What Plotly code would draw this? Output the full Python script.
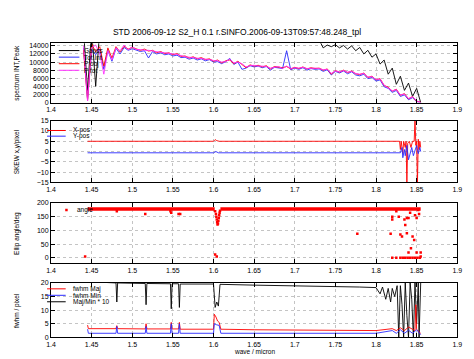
import plotly.graph_objects as go

TITLE = "STD 2006-09-12 S2_H 0.1 r.SINFO.2006-09-13T09:57:48.248_tpl"

# ---------------- Panel 1: spectrum ----------------
WAVE = [1.440, 1.445, 1.450, 1.455, 1.460, 1.465, 1.470, 1.475, 1.480, 1.485,
        1.490, 1.495, 1.500, 1.505, 1.510, 1.515, 1.520, 1.525, 1.530, 1.535,
        1.540, 1.545, 1.550, 1.555, 1.560, 1.565, 1.570, 1.575, 1.580, 1.585,
        1.590, 1.595, 1.600, 1.605, 1.610, 1.615, 1.620, 1.625, 1.630, 1.635,
        1.640, 1.645, 1.650, 1.655, 1.660, 1.665, 1.670, 1.675, 1.680, 1.685,
        1.690, 1.695, 1.700, 1.705, 1.710, 1.715, 1.720, 1.725, 1.730, 1.735,
        1.740, 1.745, 1.750, 1.755, 1.760, 1.765, 1.770, 1.775, 1.780, 1.785,
        1.790, 1.795, 1.800, 1.805, 1.810, 1.815, 1.820, 1.825, 1.830, 1.835,
        1.840, 1.845, 1.850, 1.855]

GAUSS = [18000, 3000, 18000, 4000, 18000, 18000, 18000, 18000, 18000, 18000,
         18000, 18000, 18000, 18000, 18000, 18000, 18000, 18000, 18000, 18000,
         18000, 18000, 18000, 18000, 18000, 18000, 18000, 18000, 18000, 18000,
         18000, 18000, 18000, 18000, 18000, 18000, 18000, 18000, 18000, 18000,
         18000, 18000, 18000, 18000, 18000, 18000, 18000, 18000, 18000, 18000,
         18000, 18000, 18000, 18000, 18000, 18000, 18000, 18000, 15500, 13500,
         14200, 13800, 14300, 13500, 14100, 13200, 14000, 12800, 13600, 12000,
         12900, 11200, 12000, 9500, 10500, 7000, 8500, 4500, 6500, 3000,
         4800, 1500, 3500, 0]

TOT_INT = [13500, 800, 13000, 11800, 13200, 8200, 12900, 10200, 13400, 12000,
           13600, 12900, 13300, 13000, 12600, 12800, 11000, 12600, 12000, 12300,
           11800, 12000, 11500, 11700, 11100, 11200, 10700, 11000, 10500, 10800,
           10300, 10600, 10000, 10100, 9600, 10100, 10900, 9400, 10000, 8200,
           8500, 9100, 8800, 9000, 8600, 8900, 8000, 8700, 8500, 8400,
           12800, 8100, 8500, 8200, 8600, 8000, 8400, 8200, 8300, 7700,
           8100, 6800, 7700, 7300, 7800, 7100, 7600, 6800, 6600, 7000,
           5900, 6200, 5300, 5600, 3900, 3500, 2500, 3000, 1500, 1900,
           700, 1200, 200, 50]

P_OBJ = [13000, 500, 14500, 12500, 13800, 9000, 13500, 11000, 13800, 12500,
         13900, 13200, 13600, 13300, 12900, 13200, 12700, 12900, 12300, 12600,
         12100, 12300, 11800, 12100, 11400, 11500, 11000, 11300, 10800, 11100,
         10600, 10800, 10200, 10500, 9800, 10300, 10500, 9600, 10200, 9400,
         8600, 9300, 9000, 9200, 8800, 9100, 8300, 8900, 8700, 8600,
         8900, 8300, 8700, 8400, 8800, 8300, 8600, 8400, 8500, 8000,
         8300, 7000, 7900, 7500, 8000, 7400, 7800, 7100, 6900, 7300,
         6200, 6500, 5600, 5900, 4200, 3800, 2800, 3300, 1800, 2200,
         900, 1500, 300, 100]

P_TOT = [14000, 400, 13500, 14200, 12000, 7000, 12800, 10500, 13500, 12800,
         14200, 13000, 13800, 13100, 13100, 12900, 12900, 12700, 12500, 12400,
         12300, 12100, 12000, 11900, 11600, 11300, 11200, 11100, 11000, 10900,
         10800, 10600, 10400, 10300, 10000, 10100, 10700, 9800, 10000, 9600,
         8800, 9100, 9200, 9000, 9000, 8900, 8500, 8700, 8900, 8400,
         9000, 8400, 8600, 8500, 8700, 8400, 8500, 8500, 8400, 8100,
         8200, 7200, 7800, 7600, 7900, 7500, 7700, 7200, 7000, 7200,
         6300, 6400, 5700, 5800, 4300, 3700, 2900, 3200, 1900, 2100,
         1000, 1400, 400, 0]

# ---------------- Panel 2: skew ----------------
XPOS_W = [1.4450, 1.6000, 1.6020, 1.6040, 1.6070, 1.8280, 1.8290, 1.8300, 1.8310,
          1.8330, 1.8340, 1.8360, 1.8370, 1.8380, 1.8390, 1.8410, 1.8430, 1.8450,
          1.8470, 1.8480, 1.8490, 1.8500, 1.8510, 1.8520, 1.8530, 1.8540, 1.8550]
XPOS = [5.0, 5.0, 5.8, 5.3, 5.0, 5.0, 5.0, 1.0, 5.0,
        -1.0, 5.0, 2.0, 5.0, -16.0, 4.0, 5.0, 2.0, 5.0,
        5.0, 16.0, 3.0, 5.0, -16.0, 6.0, 1.0, 5.0, 2.0]

YPOS_W = [1.4450, 1.6000, 1.6030, 1.6060, 1.8300, 1.8320, 1.8330, 1.8350, 1.8360,
          1.8380, 1.8400, 1.8420, 1.8440, 1.8460, 1.8480, 1.8500, 1.8520, 1.8540, 1.8550]
YPOS = [-0.6, -0.6, 0.0, -0.6, -0.6, 2.0, -3.0, 1.0, -2.0,
        3.0, -4.0, -1.0, 2.0, -2.0, 1.0, 3.0, -1.0, 2.0, 0.0]

# ---------------- Panel 3: ellipse angle ----------------
BAND_W = [1.4450, 1.6015, None, 1.6085, 1.8550]
BAND_A = [178, 178, None, 178, 178]

ANGLE_W = [1.4190, 1.4420, 1.4810, 1.5160, 1.5470, 1.5480, 1.5570, 1.5590,
           1.6020, 1.6030, 1.6035, 1.6040, 1.6045, 1.6050, 1.6055, 1.6060, 1.6065,
           1.6070, 1.6075, 1.6080, 1.6020, 1.6040, 1.7770,
           1.8180, 1.8200, 1.8200, 1.8200, 1.8250, 1.8250, 1.8280, 1.8300, 1.8320,
           1.8350, 1.8360, 1.8380, 1.8400, 1.8420, 1.8430, 1.8400, 1.8380, 1.8450,
           1.8470, 1.8480, 1.8500, 1.8520, 1.8530, 1.8500, 1.8550, 1.8550,
           1.8300, 1.8330, 1.8360, 1.8390, 1.8420, 1.8450, 1.8480, 1.8510, 1.8540]
ANGLE = [175, 5, 170, 160, 170, 165, 160, 160,
         170, 160, 150, 140, 130, 122, 125, 135, 145,
         155, 165, 172, 12, 5, 88,
         88, 150, 140, 0, 0, 170, 150, 85, 78,
         140, 120, 145, 145, 165, 35, 20, 90, 78,
         65, 155, 145, 175, 160, 20, 20, 5,
         0, 0, 0, 0, 0, 0, 0, 0, 0]

# ---------------- Panel 4: fwhm ----------------
RATIO_W = [1.445, 1.480, 1.481, 1.482, 1.516, 1.517, 1.518, 1.547, 1.548, 1.549,
           1.557, 1.558, 1.559, 1.600, 1.602, 1.604, 1.606, 1.608, 1.650, 1.700,
           1.750, 1.780, 1.800, 1.805, 1.808, 1.812, 1.815, 1.818, 1.820, 1.823,
           1.826, 1.828, 1.830, 1.832, 1.834, 1.836, 1.838, 1.840, 1.842, 1.844,
           1.846, 1.848, 1.850, 1.852, 1.853, 1.855]
RATIO = [20.5, 20.0, 13.0, 20.0, 19.8, 12.0, 19.8, 19.7, 10.5, 19.7,
         19.7, 11.0, 19.6, 19.6, 11.0, 13.0, 11.5, 19.5, 19.2, 19.0,
         18.8, 18.5, 18.3, 16.0, 18.5, 14.0, 18.0, 13.0, 18.0, 15.0,
         19.0, 0.0, 19.0, 12.0, 0.0, 20.0, 8.0, 0.0, 20.0, 14.0,
         0.0, 20.0, 5.0, 20.0, 0.0, 20.0]

MAJ_W = [1.445, 1.446, 1.480, 1.481, 1.482, 1.516, 1.517, 1.518, 1.547, 1.548,
         1.549, 1.557, 1.558, 1.559, 1.600, 1.601, 1.603, 1.605, 1.607, 1.609,
         1.650, 1.700, 1.750, 1.800, 1.820, 1.825, 1.830, 1.835, 1.840, 1.845,
         1.848, 1.849, 1.850, 1.853, 1.855]
MAJ = [4.5, 3.2, 3.2, 4.3, 3.2, 3.1, 5.0, 3.1, 3.1, 5.5,
       3.1, 3.1, 5.5, 3.0, 3.0, 8.5, 7.5, 6.0, 5.5, 3.0,
       2.8, 2.7, 2.6, 2.5, 3.2, 2.5, 3.5, 2.5, 3.8, 3.0,
       2.5, 12.0, 3.0, 2.0, 1.5]

MIN_W = [1.445, 1.446, 1.480, 1.481, 1.482, 1.516, 1.517, 1.518, 1.547, 1.548,
         1.549, 1.557, 1.558, 1.559, 1.600, 1.601, 1.604, 1.607, 1.609, 1.800,
         1.820, 1.825, 1.830, 1.835, 1.840, 1.845, 1.850, 1.855]
MIN = [3.0, 1.5, 1.5, 4.0, 1.5, 1.5, 4.0, 1.5, 1.5, 5.0,
       1.5, 1.5, 5.0, 1.5, 1.5, 5.0, 4.6, 4.4, 1.5, 1.5,
       2.5, 1.5, 2.8, 1.5, 2.6, 1.5, 2.8, 1.0]

X_TICKS = [1.4, 1.45, 1.5, 1.55, 1.6, 1.65, 1.7, 1.75, 1.8, 1.85, 1.9]
X_TICK_LABELS = ["1.4", "1.45", "1.5", "1.55", "1.6", "1.65", "1.7", "1.75", "1.8", "1.85", "1.9"]

W, H = 474, 359
FONT = "Liberation Sans, Arial, sans-serif"
X0, X1 = 47 / W, 462 / W
PANELS = [(40, 100.5), (119, 182), (203, 264.5), (284.5, 340)]

RED, BLUE, MAG = "#ff0000", "#2a2aff", "#ff30ff"

fig = go.Figure()
lw = 0.9


def add_line(x, y, color, name, ax, width=lw):
    fig.add_trace(go.Scatter(x=x, y=y, name=name, mode="lines", showlegend=False,
                             line=dict(color=color, width=width),
                             xaxis="x" + ax, yaxis="y" + ax))


add_line(WAVE, GAUSS, "black", "Gauss", "")
add_line(WAVE, TOT_INT, BLUE, "Tot.Int", "")
add_line(WAVE, P_OBJ, RED, "P obj", "")
add_line(WAVE, P_TOT, MAG, "P tot", "")
add_line(XPOS_W, XPOS, RED, "X-pos", "2")
add_line(YPOS_W, YPOS, BLUE, "Y-pos", "2")
add_line(BAND_W, BAND_A, RED, "angle", "3", width=3.5)
fig.add_trace(go.Scatter(x=ANGLE_W, y=ANGLE, name="angle", mode="markers", showlegend=False,
                         marker=dict(color=RED, size=2.5, symbol="square", line=dict(width=0)),
                         xaxis="x3", yaxis="y3"))
add_line(RATIO_W, RATIO, "black", "Maj/Min * 10", "4")
add_line(MAJ_W, MAJ, RED, "fwhm Maj", "4")
add_line(MIN_W, MIN, BLUE, "fwhm Min", "4")

axis_common = dict(showline=True, linecolor="black", linewidth=1, mirror="ticks",
                   ticks="inside", ticklen=4, tickcolor="black",
                   showgrid=True, gridcolor="#c4c4c4", griddash="dot", gridwidth=1,
                   zeroline=False, tickfont=dict(size=7, family=FONT, color="black"))

yranges = [[0, 14650], [-15, 15], [-20, 200], [0, 20]]
ydticks = [2000, 5, 50, 5]
ytitles = ["spectrum INT,Peak", "SKEW x,y/pixel", "Ellip angle/deg", "fwhm / pixel"]

annotations = []
shapes = []
for i, (top, bot) in enumerate(PANELS):
    s = "" if i == 0 else str(i + 1)
    dom = [1 - bot / H, 1 - top / H]
    fig.layout["xaxis" + s] = dict(axis_common, domain=[X0, X1], range=[1.4, 1.9],
                                   tickvals=X_TICKS, ticktext=X_TICK_LABELS, anchor="y" + s)
    fig.layout["yaxis" + s] = dict(axis_common, domain=dom, range=yranges[i], dtick=ydticks[i],
                                   tick0=0, anchor="x" + s, tickformat="d")
    annotations.append(dict(text=ytitles[i], xref="paper", yref="paper",
                            x=12 / W, y=(dom[0] + dom[1]) / 2, textangle=-90,
                            showarrow=False, xanchor="center", yanchor="middle",
                            font=dict(size=6.5, family=FONT, color="black")))

# key (sample line + label) for each panel, gnuplot style
KEYS = [
    (55, 76, 79, 47.5, 6.7, [("Gauss", "black"), ("Tot.Int", BLUE), ("P obj", RED), ("P tot", MAG)]),
    (43, 62, 67, 129, 5.8, [("X-pos", RED), ("Y-pos", BLUE)]),
    (50, 68, 71, 210.5, 6.5, [("angle", None)]),
    (43, 62, 67, 290.5, 6.6, [("fwhm Maj", RED), ("fwhm Min", BLUE), ("Maj/Min * 10", "black")]),
]
for sx0, sx1, tx, y0, dy, entries in KEYS:
    for k, (label, color) in enumerate(entries):
        yy = 1 - (y0 + k * dy) / H
        if color is not None:
            shapes.append(dict(type="line", xref="paper", yref="paper", x0=sx0 / W, x1=sx1 / W,
                               y0=yy, y1=yy, line=dict(color=color, width=1)))
        annotations.append(dict(text=label, xref="paper", yref="paper", x=tx / W, y=yy,
                                xanchor="left", yanchor="middle", showarrow=False,
                                font=dict(size=6.5, family=FONT, color="black")))

annotations.append(dict(text="wave / micron", xref="paper", yref="paper",
                        x=(X0 + X1) / 2, y=1 - 354 / H, showarrow=False,
                        xanchor="center", yanchor="middle",
                        font=dict(size=6.5, family=FONT, color="black")))

fig.update_layout(width=W, height=H, margin=dict(l=0, r=0, t=0, b=0),
                  paper_bgcolor="white", plot_bgcolor="white", showlegend=False,
                  font=dict(family=FONT, size=7, color="black"),
                  title=dict(text=TITLE, x=0.5, xanchor="center", y=1 - 32 / H, yanchor="middle",
                             font=dict(size=8.5, family=FONT, color="black")),
                  annotations=annotations, shapes=shapes)

fig.write_html("out.html", config={"displayModeBar": False},
               post_script="document.body.style.margin='0';document.body.style.overflow='hidden';")
